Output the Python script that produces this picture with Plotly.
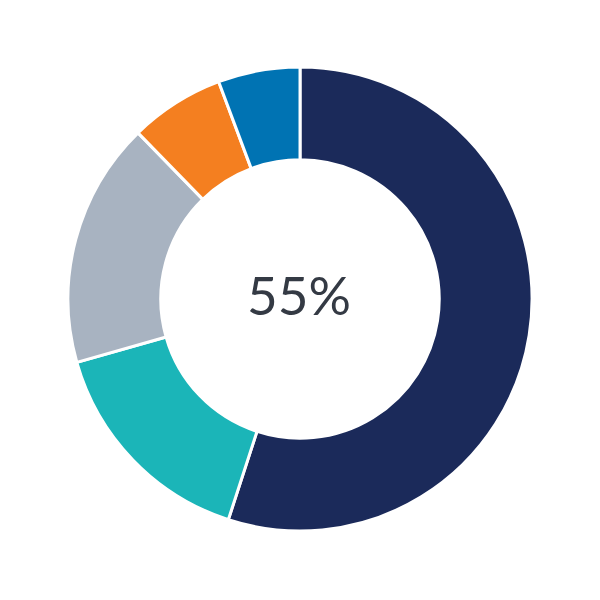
import plotly.graph_objects as go

# Share of each segment, clockwise from 12 o'clock
labels = ["Segment A", "Segment B", "Segment C", "Segment D", "Segment E"]
values = [55, 15.6, 17.1, 6.6, 5.7]
colors = ["#1b2a5a", "#1bb5b8", "#a8b3c1", "#f47f20", "#0073b3"]
center_label = "55%"

# page has an 8px body margin, so the donut is nudged up/left to sit at (300, 299)
cx, cy, r = 0.4867, 0.515, 0.3867

fig = go.Figure()

fig.add_trace(
    go.Pie(
        labels=labels,
        values=values,
        hole=0.6,
        sort=False,
        direction="clockwise",
        rotation=0,
        marker=dict(colors=colors, line=dict(color="white", width=3)),
        textinfo="none",
        hoverinfo="label+percent",
        domain=dict(x=[cx - r, cx + r], y=[cy - r, cy + r]),
        showlegend=False,
    )
)

fig.update_layout(
    width=600,
    height=600,
    margin=dict(l=0, r=0, t=0, b=0),
    paper_bgcolor="white",
    plot_bgcolor="white",
    annotations=[
        dict(
            text=center_label,
            x=cx - 0.002,
            y=0.523,
            xref="paper",
            yref="paper",
            showarrow=False,
            font=dict(family="Lato", size=53, color="#343a44"),
        )
    ],
)

fig.write_html("out.html")
